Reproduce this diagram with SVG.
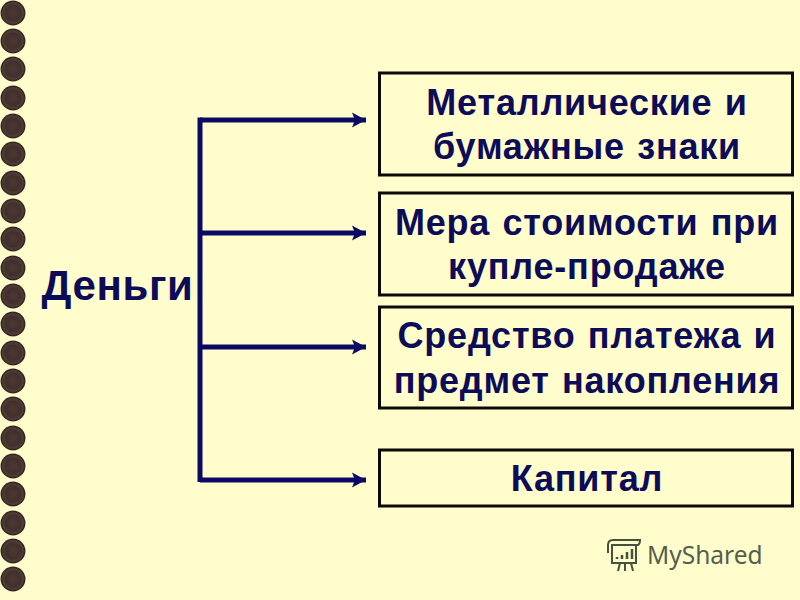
<svg xmlns="http://www.w3.org/2000/svg" xmlns:xlink="http://www.w3.org/1999/xlink" width="800" height="600" viewBox="0 0 800 600">
<style>
.box{fill:none;stroke:#0a0a0a;stroke-width:3}
.t{font-family:"Liberation Sans",Arial,sans-serif;font-weight:700;font-size:36px;fill:#0c0c58;text-anchor:middle;letter-spacing:.8px;word-spacing:1.5px}
.wire{fill:none;stroke:#0a0a64;stroke-width:5}
</style>
<defs>
<radialGradient id="coin"><stop offset="0" stop-color="#4e3834"/><stop offset=".6" stop-color="#40302c"/><stop offset=".82" stop-color="#523c36"/><stop offset=".94" stop-color="#302220"/><stop offset="1" stop-color="#4a3a34"/></radialGradient>
<filter id="soft" x="-10%" y="-2%" width="130%" height="104%"><feGaussianBlur stdDeviation="0.6"/></filter>
<marker id="arr" markerUnits="userSpaceOnUse" markerWidth="16" markerHeight="16" refX="14" refY="8" orient="auto"><path d="M0 .5 L14 8 L0 15.500 L3 8 Z" fill="#0a0a64"/></marker>
<circle id="c" r="12.500" fill="url(#coin)"/>
</defs>
<rect width="800" height="600" fill="#fffdcb"/>
<g id="coins" filter="url(#soft)">
<use xlink:href="#c" href="#c" x="13" y="13"/><use xlink:href="#c" href="#c" x="13" y="41"/><use xlink:href="#c" href="#c" x="13" y="69"/><use xlink:href="#c" href="#c" x="13" y="98"/><use xlink:href="#c" href="#c" x="13" y="126"/><use xlink:href="#c" href="#c" x="13" y="154"/><use xlink:href="#c" href="#c" x="13" y="183"/><use xlink:href="#c" href="#c" x="13" y="211"/><use xlink:href="#c" href="#c" x="13" y="239"/><use xlink:href="#c" href="#c" x="13" y="268"/><use xlink:href="#c" href="#c" x="13" y="296"/><use xlink:href="#c" href="#c" x="13" y="324"/><use xlink:href="#c" href="#c" x="13" y="353"/><use xlink:href="#c" href="#c" x="13" y="381"/><use xlink:href="#c" href="#c" x="13" y="409"/><use xlink:href="#c" href="#c" x="13" y="438"/><use xlink:href="#c" href="#c" x="13" y="466"/><use xlink:href="#c" href="#c" x="13" y="494"/><use xlink:href="#c" href="#c" x="13" y="523"/><use xlink:href="#c" href="#c" x="13" y="551"/><use xlink:href="#c" href="#c" x="13" y="579"/>
</g>
<g id="connectors">
<path class="wire" d="M200 117.500V482"/>
<path class="wire" d="M200 120H366" marker-end="url(#arr)"/>
<path class="wire" d="M200 233H366" marker-end="url(#arr)"/>
<path class="wire" d="M200 347H366" marker-end="url(#arr)"/>
<path class="wire" d="M200 480H366" marker-end="url(#arr)"/>
</g>
<g id="root"><text class="t" x="117.500" y="300" style="font-size:42px;letter-spacing:.6px">Деньги</text></g>
<g id="n1"><rect class="box" x="379.500" y="73" width="413" height="102"/><text class="t" x="587" y="115">Металлические и</text><text class="t" x="587" y="159">бумажные знаки</text></g>
<g id="n2"><rect class="box" x="379.500" y="193" width="413" height="102"/><text class="t" x="587" y="235">Мера стоимости при</text><text class="t" x="587" y="279">купле-продаже</text></g>
<g id="n3"><rect class="box" x="379.500" y="307" width="413" height="101"/><text class="t" x="587" y="348">Средство платежа и</text><text class="t" x="587" y="393">предмет накопления</text></g>
<g id="n4"><rect class="box" x="379.500" y="450" width="413" height="56"/><text class="t" x="587" y="491">Капитал</text></g>
<g id="logo" fill="none" stroke="#46503f" stroke-width="2">
<path d="M613 540H640Q640 544 638 545H612V563H636V545M613 540Q608 540 608 545V553"/>
<path d="M620 563L618 571M625 563V571M631 563L633 571"/>
<path d="M617 559V557M622 559V555M627 559V552M632 559V549" stroke-width="2.500"/>
<text x="647" y="564" font-family="'Noto Sans',sans-serif" font-size="24.500" fill="#565d4f" stroke="none">MyShared</text>
</g>
</svg>
